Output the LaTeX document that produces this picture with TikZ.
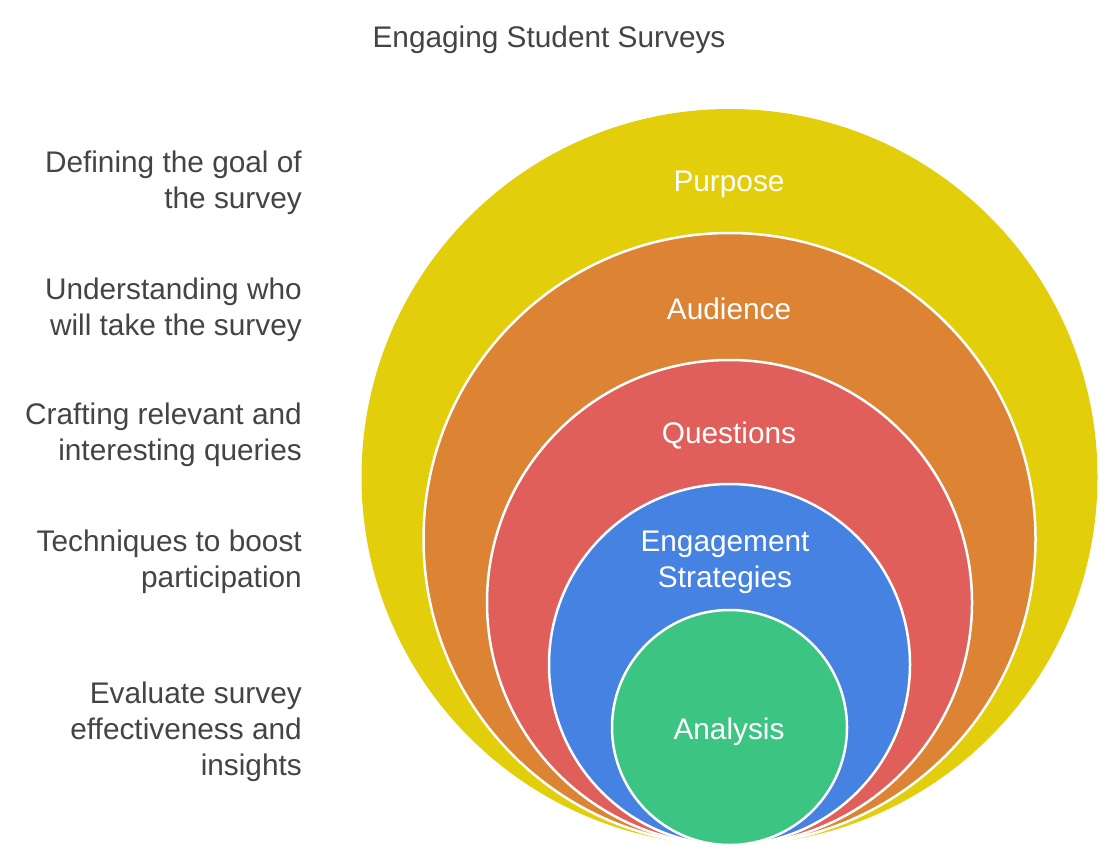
\documentclass[tikz,border=0pt]{standalone}
\usepackage{fontspec}
\setmainfont{Liberation Sans}
\definecolor{purposeyellow}{HTML}{E2CE0A}
\definecolor{audienceorange}{HTML}{DC8433}
\definecolor{questionsred}{HTML}{E15F5B}
\definecolor{strategyblue}{HTML}{4582E2}
\definecolor{analysisgreen}{HTML}{3CC582}
\definecolor{textgray}{HTML}{444444}
\begin{document}
\begin{tikzpicture}[x=1pt,y=-1pt,
  every node/.style={font=\fontsize{29.8}{36}\selectfont, inner sep=0pt},
  sidelabel/.style={anchor=east, align=right, text=textgray},
  ringlabel/.style={align=center, text=white},
  ring/.style={draw=white, line width=2.5pt}]

\useasboundingbox (0,0) rectangle (1118,866);

\def\purposecircle{(729.5,477) circle (368)}
\def\audiencecircle{(729.5,539) circle (306)}
\def\questionscircle{(729.5,602.5) circle (242.5)}
\def\strategycircle{(729.5,664.5) circle (180.5)}
\def\analysiscircle{(729.5,727.5) circle (117.5)}

\fill[purposeyellow] \purposecircle;
\fill[audienceorange, ring] \audiencecircle;
\fill[questionsred, ring] \questionscircle;
\fill[strategyblue, ring] \strategycircle;
\fill[analysisgreen, ring] \analysiscircle;

\node[text=textgray] (title) at (549,40) {Engaging Student Surveys};

\node[ringlabel] (purpose) at (729,184) {Purpose};
\node[ringlabel] (audience) at (729,309) {Audience};
\node[ringlabel] (questions) at (729,436) {Questions};
\node[ringlabel] (strategies) at (725,562) {Engagement\\Strategies};
\node[ringlabel] (analysis) at (729,732) {Analysis};

\node[sidelabel] (goal) at (302,183) {Defining the goal of\\the survey};
\node[sidelabel] (who) at (302,310) {Understanding who\\will take the survey};
\node[sidelabel] (queries) at (302,435) {Crafting relevant and\\interesting queries};
\node[sidelabel] (boost) at (302,562) {Techniques to boost\\participation};
\node[sidelabel] (evaluate) at (302,732) {Evaluate survey\\effectiveness and\\insights};

\end{tikzpicture}
\end{document}
